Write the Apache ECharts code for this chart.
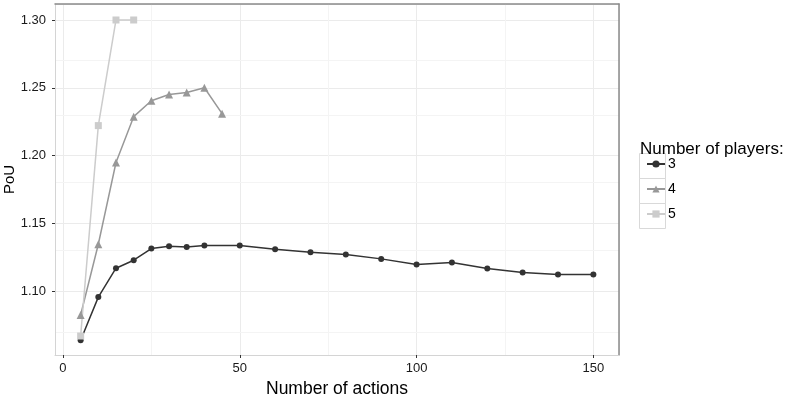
<!DOCTYPE html>
<html>
<head>
<meta charset="utf-8">
<script src="https://cdn.jsdelivr.net/npm/echarts@6/dist/echarts.min.js"></script>
<style>
  html, body { margin: 0; padding: 0; background: #fff; }
  #main { width: 786px; height: 396px; }
</style>
</head>
<body>
<div id="main"></div>
<script>
// number of actions for each group of players
var actions3 = [5, 10, 15, 20, 25, 30, 35, 40, 50, 60, 70, 80, 90, 100, 110, 120, 130, 140, 150];
var pou3 = [1.0638, 1.0956, 1.1169, 1.1228, 1.1314, 1.1331, 1.1326, 1.1336, 1.1336, 1.1309,
  1.1287, 1.1270, 1.1238, 1.1196, 1.1211, 1.1167, 1.1137, 1.1123, 1.1123];
var actions4 = [5, 10, 15, 20, 25, 30, 35, 40, 45];
var pou4 = [1.0824, 1.1346, 1.1949, 1.2287, 1.2404, 1.2451, 1.2465, 1.2500, 1.2309];
var actions5 = [5, 10, 15, 20];
var pou5 = [1.0669, 1.2221, 1.3000, 1.3000];
var playerNames = ['3', '4', '5'];
var minorX = [25, 75, 125];
var minorY = [1.075, 1.125, 1.175, 1.225, 1.275];

function pairs(xs, ys) {
  return xs.map(function (x, i) { return [x, ys[i]]; });
}

var font = 'Liberation Sans, Arial, sans-serif';
var chart = echarts.init(document.getElementById('main'), null, { renderer: 'canvas' });

var option = {
  backgroundColor: '#fff',
  animation: false,
  textStyle: { fontFamily: font },
  title: {
    text: 'Number of players:',
    left: 635,
    top: 136,
    textStyle: { fontSize: 17, fontWeight: 'normal', color: '#000', fontFamily: font }
  },
  legend: {
    orient: 'vertical',
    left: 641,
    top: 152,
    itemWidth: 18,
    itemHeight: 9,
    itemGap: 11,
    data: playerNames,
    textStyle: { fontSize: 14, color: '#000', fontFamily: font, padding: [0, 0, 0, -2] }
  },
  graphic: [0, 1, 2].map(function (i) {
    return {
      type: 'rect',
      left: 637,
      top: 151 + i * 25,
      shape: { width: 26, height: 25 },
      style: { fill: 'none', stroke: '#d9d9d9', lineWidth: 1 },
      silent: true
    };
  }),
  grid: {
    left: 55,
    right: 167,
    top: 4,
    bottom: 41,
    show: false,
    outerBoundsMode: 'none',
    containLabel: false
  },
  xAxis: [{
    type: 'value',
    min: -2.25,
    max: 157.25,
    splitNumber: 3,
    name: 'Number of actions',
    nameLocation: 'middle',
    nameGap: 25,
    nameMoveOverlap: false,
    nameTextStyle: { fontSize: 17.5, color: '#000', fontFamily: font },
    axisLine: { show: true, onZero: false, lineStyle: { color: '#d4d4d4', width: 1 } },
    axisTick: { show: true, length: 3, lineStyle: { color: '#333' } },
    axisLabel: { fontSize: 13, color: '#1a1a1a', margin: 7, showMinLabel: false, showMaxLabel: false, fontFamily: font },
    splitLine: { show: true, lineStyle: { color: '#ebebeb', width: 1 } }
  }, {
    type: 'value',
    position: 'top',
    min: -2.25,
    max: 157.25,
    axisLine: { show: true, onZero: false, lineStyle: { color: '#8a8a8a', width: 1.5 } },
    axisTick: { show: false },
    axisLabel: { show: false },
    splitLine: { show: false }
  }],
  yAxis: [{
    type: 'value',
    min: 1.0529,
    max: 1.3118,
    splitNumber: 5,
    name: 'PoU',
    nameLocation: 'middle',
    nameGap: 38,
    nameMoveOverlap: false,
    nameTextStyle: { fontSize: 15, color: '#000', fontFamily: font },
    axisLine: { show: true, onZero: false, lineStyle: { color: '#d4d4d4', width: 1 } },
    axisTick: { show: true, length: 3, lineStyle: { color: '#333' } },
    axisLabel: {
      fontSize: 13, color: '#1a1a1a', margin: 9, showMinLabel: false, showMaxLabel: false, fontFamily: font,
      formatter: function (v) { return v.toFixed(2); }
    },
    splitLine: { show: true, lineStyle: { color: '#ebebeb', width: 1 } }
  }, {
    type: 'value',
    position: 'right',
    min: 1.0529,
    max: 1.3118,
    axisLine: { show: true, onZero: false, lineStyle: { color: '#8a8a8a', width: 1.5 } },
    axisTick: { show: false },
    axisLabel: { show: false },
    splitLine: { show: false }
  }],
  series: [{
    // minor grid lines
    type: 'line',
    data: [],
    z: 0,
    silent: true,
    markLine: {
      silent: true,
      z: 0,
      symbol: 'none',
      label: { show: false },
      emphasis: { disabled: true },
      lineStyle: { color: '#f4f4f4', type: 'solid', width: 1 },
      data: minorX.map(function (v) { return { xAxis: v }; })
        .concat(minorY.map(function (v) { return { yAxis: v }; }))
    }
  }, {
    name: '3',
    type: 'line',
    z: 5,
    data: pairs(actions3, pou3),
    symbol: 'circle',
    symbolSize: 6,
    color: '#333333',
    lineStyle: { width: 1.5, color: '#333333' },
    itemStyle: { color: '#333333' }
  }, {
    name: '4',
    type: 'line',
    z: 5,
    data: pairs(actions4, pou4),
    symbol: 'triangle',
    symbolSize: 8,
    color: '#989898',
    lineStyle: { width: 1.5, color: '#989898' },
    itemStyle: { color: '#989898' }
  }, {
    name: '5',
    type: 'line',
    z: 5,
    data: pairs(actions5, pou5),
    symbol: 'rect',
    symbolSize: 7,
    color: '#cccccc',
    lineStyle: { width: 1.5, color: '#cccccc' },
    itemStyle: { color: '#cccccc' }
  }]
};

chart.setOption(option);
</script>
</body>
</html>
